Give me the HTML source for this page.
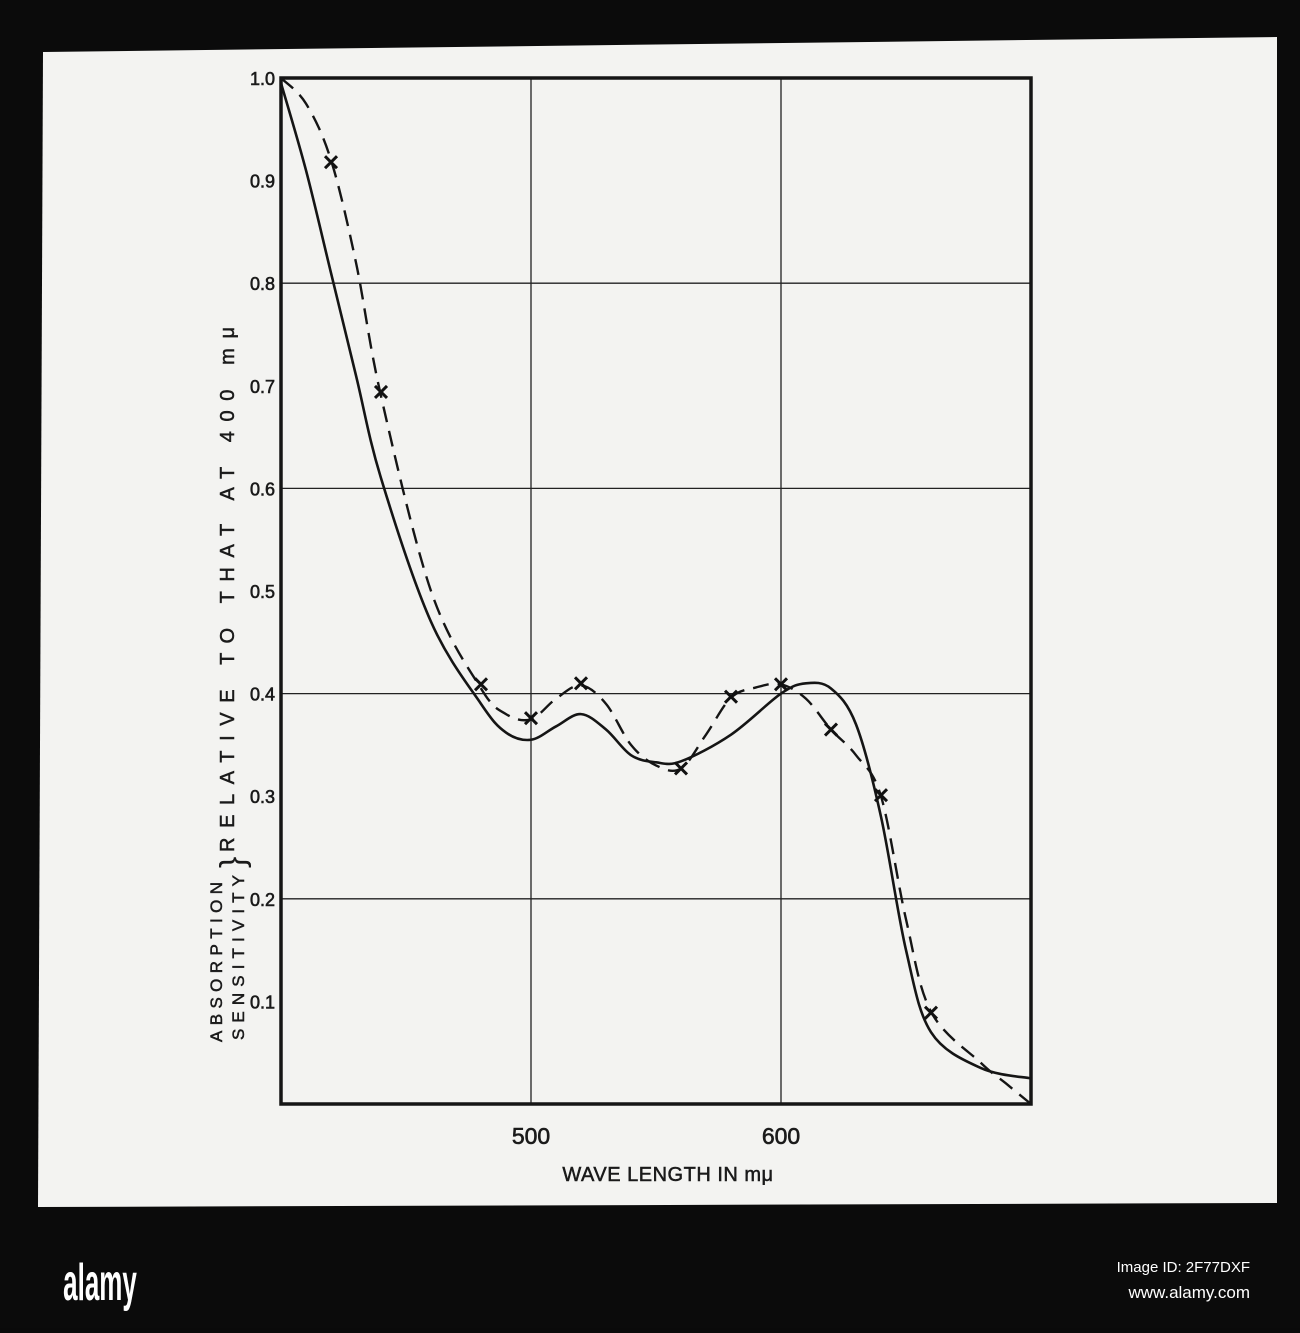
<!DOCTYPE html>
<html><head><meta charset="utf-8"><style>
html,body{margin:0;padding:0;background:#0a0a0a;}
body{width:1300px;height:1328px;position:relative;overflow:hidden;font-family:"Liberation Sans",sans-serif;}
</style></head><body>
<svg width="1300" height="1328" viewBox="0 0 1300 1328" xmlns="http://www.w3.org/2000/svg">
<rect x="0" y="0" width="1300" height="1328" fill="#0b0b0b"/>
<polygon points="43,52 1277,37 1277,1203 38,1207" fill="#f3f3f1"/>
<g id="grid"></g>
<g id="series"></g>
<g id="ticks" font-family="Liberation Sans, sans-serif" fill="#1a1a1a" stroke="#1a1a1a" stroke-width="0.6"></g>
<g fill="#1a1a1a" stroke="#1a1a1a" stroke-width="0.5" font-family="Liberation Sans, sans-serif" font-size="17">
<text transform="translate(222,1042) rotate(-90)" textLength="160" lengthAdjust="spacing">ABSORPTION</text>
<text transform="translate(244,1040) rotate(-90)" textLength="165" lengthAdjust="spacing">SENSITIVITY</text>
<text transform="translate(244,868) rotate(-90)" font-size="34" stroke-width="0">}</text>
<text transform="translate(234,852) rotate(-90)" font-size="20" textLength="525" lengthAdjust="spacing">RELATIVE TO THAT AT 400 mμ</text>
</g>
<text x="668" y="1181" text-anchor="middle" font-size="20" fill="#1a1a1a" stroke="#1a1a1a" stroke-width="0.5" letter-spacing="0.5">WAVE LENGTH IN mμ</text>
<text x="100" y="1300" text-anchor="middle" font-size="52" font-weight="bold" fill="#fff" transform="translate(100,0) scale(0.5,1) translate(-100,0)">alamy</text>
<text x="1250" y="1272" text-anchor="end" font-size="15" fill="#fff">Image ID: 2F77DXF</text>
<text x="1250" y="1298" text-anchor="end" font-size="17" fill="#fff">www.alamy.com</text>
</svg>
<script>
const xTicks=[500,600];
const yTicks=[0.1,0.2,0.3,0.4,0.5,0.6,0.7,0.8,0.9,1.0];
const yTickLabels=["0.1","0.2","0.3","0.4","0.5","0.6","0.7","0.8","0.9","1.0"];
const yGrid=[0.2,0.4,0.6,0.8];
const dashedX=[400,410,420,430,440,460,480,490,500,510,520,530,540,550,560,570,580,590,600,610,620,630,640,650,660,680,690,700];
const dashedY=[1.0,0.975,0.92,0.82,0.69,0.5,0.405,0.38,0.375,0.395,0.408,0.39,0.35,0.33,0.327,0.36,0.396,0.406,0.409,0.395,0.365,0.34,0.30,0.18,0.09,0.04,0.02,0.0];
const markerX=[420,440,480,500,520,560,580,600,620,640,660];
const markerY=[0.918,0.694,0.409,0.376,0.41,0.327,0.397,0.409,0.365,0.301,0.089];
const solidX=[400,410,420,430,440,460,480,490,500,510,520,530,540,550,560,580,600,610,620,630,640,650,660,680,700];
const solidY=[0.995,0.91,0.81,0.71,0.61,0.47,0.39,0.362,0.355,0.368,0.38,0.365,0.34,0.333,0.334,0.36,0.40,0.41,0.405,0.37,0.28,0.15,0.07,0.035,0.025];
const X0=281,X1=1031,Y0=1104,Y1=78;
const xs=v=>X0+(v-400)/300*(X1-X0);
const ys=v=>Y0-v*(Y0-Y1);
const NS="http://www.w3.org/2000/svg";
function mk(tag,attrs,parent){const e=document.createElementNS(NS,tag);for(const k in attrs)e.setAttribute(k,attrs[k]);parent.appendChild(e);return e;}
const grid=document.getElementById('grid'),series=document.getElementById('series'),ticks=document.getElementById('ticks');
yGrid.forEach(v=>{const l=mk('line',{x1:X0,x2:X1,y1:ys(v),y2:ys(v),stroke:'#222','stroke-width':1.3},grid);

});
xTicks.forEach(v=>{const l=mk('line',{x1:xs(v),x2:xs(v),y1:Y1,y2:Y0,stroke:'#222','stroke-width':1.3},grid);


const t=mk('text',{x:xs(v),y:Y0+40,'text-anchor':'middle','font-size':23},ticks);t.textContent=String(v);

});
yTicks.forEach((v,i)=>{const t=mk('text',{x:X0-6,y:ys(v)+7,'text-anchor':'end','font-size':18},ticks);t.textContent=yTickLabels[i];

});
const frame=mk('rect',{x:X0,y:Y1,width:X1-X0,height:Y0-Y1,fill:'none',stroke:'#151515','stroke-width':3.5},grid);


function smooth(X,Y){const p=X.map((x,i)=>[xs(x),ys(Y[i])]);let d='M'+p[0][0]+','+p[0][1];
for(let i=0;i<p.length-1;i++){const a=p[Math.max(0,i-1)],b=p[i],c=p[i+1],e=p[Math.min(p.length-1,i+2)];
const c1=[b[0]+(c[0]-a[0])/6,b[1]+(c[1]-a[1])/6],c2=[c[0]-(e[0]-b[0])/6,c[1]-(e[1]-b[1])/6];
d+=` C${c1[0]},${c1[1]} ${c2[0]},${c2[1]} ${c[0]},${c[1]}`;}return d;}
const s=mk('path',{d:smooth(solidX,solidY),fill:'none',stroke:'#151515','stroke-width':2.6},series);


const dl=mk('path',{d:smooth(dashedX,dashedY),fill:'none',stroke:'#151515','stroke-width':2.4,'stroke-dasharray':'16 9'},series);


markerX.forEach((x,i)=>{const cx=xs(x),cy=ys(markerY[i]);
const m=mk('path',{d:`M${cx-6},${cy-6}L${cx+6},${cy+6}M${cx+6},${cy-6}L${cx-6},${cy+6}`,stroke:'#111','stroke-width':3},series);

});
</script>
</body></html>
